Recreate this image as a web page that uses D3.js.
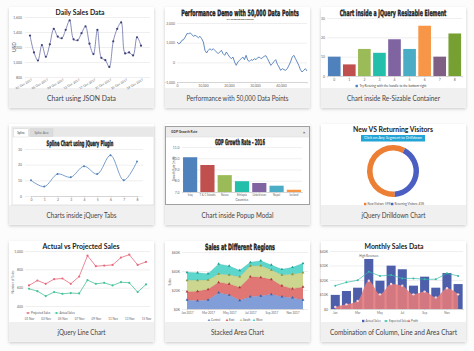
<!DOCTYPE html>
<html>
<head>
<meta charset="utf-8">
<script src="https://cdn.jsdelivr.net/npm/d3@7"></script>
<style>
  body { margin: 0; background: #fcfcfc; }
  svg { display: block; font-family: Lato, "Open Sans", sans-serif; }
</style>
</head>
<body>
<svg id="page" width="474" height="351"></svg>
<script>
const dailyStart = new Date(2017, 11, 1);
const dailySales = [1353, 1128, 1020, 1227, 1070, 1236, 1443, 1339, 1317, 1429, 1555, 1303, 1290, 1384, 1474,
  1245, 1106, 1429, 1056, 1025, 935, 1276, 1443, 1528, 1115, 1128, 1088, 1330, 1218];
const dailyTicks = [800, 1000, 1200, 1400, 1600];

const perfValues = [1034, 949, 983, 1119, 1153, 1288, 1458, 1458, 1492, 1424,
  1322, 1373, 1322, 1254, 1322, 1203, 1034, 610, 475, 610,
  695, 610, 695, 610, 525, 441, 525, 610, 441, 356,
  525, 390, 271, 186, 271, 17, -153, 17, 102, 186,
  271, 136, 356, 102, 51, 136, 102, 186, 136, 237,
  271, 186, 237, 305, 339, 186, 17, -153, -68, 51,
  136, -102, -237, -407, -322, -373, -407, -322, -153, 17,
  271, 356, 186, 17, -153, -373, -492, -407, -322, -441];
const perfTicksX = [0, 10000, 20000, 30000, 40000];
const perfTicksY = [-1000, 0, 1000, 2000];

const resizeLabels = ['0', '1', '2', '3', '4', '5', '6', '7', '8'];
const resizeValues = [10, 6, 14, 12, 19, 14, 26, 10, 22];
const splineValues = [10, 6, 14, 12, 19, 14, 26, 10, 22];
const smallTicks = [0, 10, 20, 30];

const gdpCountries = ['Iraq', 'T & C Islands', 'Nauru', 'Ethiopia', 'Uzbekistan', 'Nepal', 'Iceland'];
const gdpRates = [10.09, 9.40, 8.50, 7.96, 7.80, 7.56, 7.20];
const gdpTicks = [7, 8, 9, 10, 11];

const visitorLabels = ['New Visitors', 'Returning Visitors'];
const visitorShare = [59, 41];

const salesDays = ['01 Nov', '02 Nov', '03 Nov', '04 Nov', '05 Nov', '06 Nov', '07 Nov', '08 Nov',
  '09 Nov', '10 Nov', '11 Nov', '12 Nov', '13 Nov', '14 Nov', '15 Nov'];
const projectedSales = [624, 678, 642, 693, 700, 642, 721, 949, 834, 841, 848, 928, 960, 848, 881];
const actualSales = [588, 562, 508, 552, 533, 541, 537, 682, 642, 653, 624, 660, 653, 552, 635];
const salesTicks = [400, 600, 800, 1000];

const regionMonths = ['Jan 2017', 'Feb 2017', 'Mar 2017', 'Apr 2017', 'May 2017', 'Jun 2017',
  'Jul 2017', 'Aug 2017', 'Sep 2017', 'Oct 2017', 'Nov 2017', 'Dec 2017'];
const regionKeys = ['Central', 'East', 'South', 'West'];
const centralSales = [9.5, 8.8, 9.5, 17.2, 14.7, 9.1, 13, 13.7, 15.4, 13, 11.9, 9.5];
const eastSales = [8.7, 9.8, 11.2, 10.9, 11.6, 13.7, 21, 19.6, 15.8, 11.6, 9.5, 13.7];
const southSales = [12, 11.6, 9.8, 8.7, 9.5, 11.2, 11.3, 12.3, 9.9, 11.2, 15.1, 15];
const westSales = [8.4, 8, 6.7, 10.6, 9.5, 6.7, 3.8, 5.3, 5.2, 6, 7.4, 9.9];
const regionTicks = [0, 20, 40, 60];

const months = ['Jan', 'Feb', 'Mar', 'Apr', 'May', 'Jun', 'Jul', 'Aug', 'Sep', 'Oct', 'Nov', 'Dec'];
const monthlyActual = [9.7, 12.4, 14.7, 34.5, 19.5, 29.9, 27.4, 16.1, 22.3, 14.7, 24.8, 17.2];
const monthlyExpected = [16.1, 18.4, 19.8, 25.7, 22.8, 23.4, 21.1, 21.1, 20.5, 20.5, 24.6, 22.8];
const monthlyProfit = [1.4, 3.2, 5.5, 19.5, 10.1, 17.2, 16.1, 10.1, 12, 8, 14.3, 10.1];
const monthlyTicks = [0, 10, 20, 30, 40];

const captions = ['Chart using JSON Data', 'Performance with 50,000 Data Points', 'Chart inside Re-Sizable Container',
  'Charts inside jQuery Tabs', 'Chart inside Popup Modal', 'jQuery Drilldown Chart',
  'jQuery Line Chart', 'Stacked Area Chart', 'Combination of Column, Line and Area Chart'];

// ---- layout ----
const cardX = [9, 165, 321], cardY = [7, 124, 241];
const cardW = 145, imgH = 81, bandH = 19.5;
const captionLen = [69, 102, 93, 70, 72, 64, 48, 53, 127];
const colorSet = ['#4f81bc', '#c0504e', '#9bbb58', '#23bfaa', '#8064a1', '#4aacc5', '#f79647', '#7f6084', '#77a033'];
const narrow = '"Liberation Sans Narrow", "DejaVu Sans Condensed", sans-serif';

const svg = d3.select('#page');
svg.append('rect').attr('width', 474).attr('height', 351).attr('fill', '#fcfcfc');
svg.append('defs').append('filter').attr('id', 'shadow')
  .attr('x', '-10%').attr('y', '-10%').attr('width', '120%').attr('height', '130%')
  .append('feDropShadow').attr('dx', 0).attr('dy', 1.5).attr('stdDeviation', 1.6)
  .attr('flood-color', '#000').attr('flood-opacity', 0.2);

function title(g, x, y, str, len, size, impact) {
  const t = g.append('text').attr('dy', '0.35em').attr('text-anchor', 'middle')
    .attr('font-family', impact ? narrow : 'Lato, "Open Sans", sans-serif')
    .attr('font-weight', 'bold').attr('font-size', size).attr('fill', '#222')
    .attr('stroke', impact ? '#222' : 'none').attr('stroke-width', impact ? 0.3 : 0)
    .text(str);
  // squeeze to the width seen in the thumbnail; impact-like titles get a bit taller
  const sx = len / t.node().getComputedTextLength();
  t.attr('transform', 'translate(' + x + ',' + y + ') scale(' + sx + ',' + (impact ? 1.25 : 1) + ')');
}

function small(g, x, y, str, size, opts) {
  opts = opts || {};
  const t = g.append('text').attr('x', x).attr('y', y).attr('dy', '0.35em')
    .attr('font-size', size).attr('fill', opts.fill || '#555')
    .attr('text-anchor', opts.anchor || 'start').text(str);
  if (opts.rotate) t.attr('transform', 'rotate(-90,' + x + ',' + y + ')');
  if (opts.len) t.attr('textLength', opts.len).attr('lengthAdjust', 'spacingAndGlyphs');
  if (opts.weight) t.attr('font-weight', opts.weight);
  return t;
}

function grid(sel) {
  sel.attr('font-family', null);
  sel.select('.domain').remove();
  sel.selectAll('.tick line').attr('stroke', '#dedede').attr('stroke-width', 0.5);
  sel.selectAll('.tick text').attr('font-size', 3.4).attr('fill', '#666');
}

function baseAxis(sel, size) {
  sel.attr('font-family', null);
  sel.select('.domain').attr('stroke', '#bbb').attr('stroke-width', 0.5);
  sel.selectAll('.tick line').attr('stroke', '#bbb').attr('stroke-width', 0.5);
  sel.selectAll('.tick text').attr('font-size', size || 3.4).attr('fill', '#666');
}

// 1. Daily Sales Data
function drawDaily(g) {
  const dates = dailySales.map((d, i) => d3.timeDay.offset(dailyStart, i));
  const x = d3.scaleTime().domain(d3.extent(dates)).range([21, 132]);
  const y = d3.scaleLinear().domain([800, 1600]).range([70, 10]);
  title(g, 71, 6, 'Daily Sales Data', 49, 7);
  small(g, 5, 40, 'USD', 6, { rotate: true, anchor: 'middle', fill: '#555', len: 10 });
  g.append('g').attr('transform', 'translate(16,0)')
    .call(d3.axisLeft(y).tickValues(dailyTicks).tickSize(-125).tickPadding(3).tickFormat(d3.format(',')))
    .call(grid);
  const xa = g.append('g').attr('transform', 'translate(0,70)')
    .call(d3.axisBottom(x).tickValues(dates.filter((d, i) => i % 4 === 0)).tickSize(0).tickPadding(3)
      .tickFormat(d3.timeFormat('%d %b %Y')));
  xa.attr('font-family', null).select('.domain').remove();
  xa.selectAll('text').attr('font-size', 3.2).attr('fill', '#666').attr('text-anchor', 'end')
    .attr('dy', '0.3em').attr('transform', 'rotate(-30)');
  const line = d3.line().x((d, i) => x(dates[i])).y(d => y(d)).curve(d3.curveCatmullRom);
  g.append('path').datum(dailySales).attr('d', line).attr('fill', 'none')
    .attr('stroke', '#6a6ea8').attr('stroke-width', 0.8);
  g.selectAll('.dot').data(dailySales).join('circle')
    .attr('cx', (d, i) => x(dates[i])).attr('cy', d => y(d)).attr('r', 1.1).attr('fill', '#3e4178');
}

// 2. Performance Demo
function drawPerf(g) {
  const x = d3.scaleLinear().domain([0, 50000]).range([12, 142]);
  const y = d3.scaleLinear().domain([-1000, 2000]).range([75, 16]);
  title(g, 75, 6, 'Performance Demo with 50,000 Data Points', 118, 7, true);
  small(g, 75, 12.5, 'Try Zooming and Panning', 2.4, { anchor: 'middle', fill: '#333', weight: 'bold' });
  g.append('g').attr('transform', 'translate(12,0)')
    .call(d3.axisLeft(y).tickValues(perfTicksY).tickSize(-130).tickPadding(2).tickFormat(d3.format(',')))
    .call(grid);
  g.append('g').attr('transform', 'translate(0,75)')
    .call(d3.axisBottom(x).tickValues(perfTicksX).tickSize(1.5).tickPadding(1.5).tickFormat(d3.format(',')))
    .call(baseAxis);
  const step = 50000 / (perfValues.length - 1);
  const line = d3.line().x((d, i) => x(i * step)).y(d => y(d));
  g.append('path').datum(perfValues).attr('d', line).attr('fill', 'none')
    .attr('stroke', '#3a6db0').attr('stroke-width', 0.8);
}

// 3. Resizable column chart
function drawResize(g) {
  const x = d3.scaleBand().domain(resizeLabels).range([6, 141]).paddingInner(0.16).paddingOuter(0.06);
  const y = d3.scaleLinear().domain([0, 30]).range([69, 11]);
  title(g, 72, 6, 'Chart inside a jQuery Resizable Element', 107, 6.8, true);
  g.append('g').attr('transform', 'translate(6,0)')
    .call(d3.axisLeft(y).tickValues(smallTicks).tickSize(-135).tickPadding(2))
    .call(grid);
  g.selectAll('.bar').data(resizeValues).join('rect')
    .attr('x', (d, i) => x(resizeLabels[i])).attr('width', x.bandwidth())
    .attr('y', d => y(d)).attr('height', d => y(0) - y(d))
    .attr('fill', (d, i) => colorSet[i]);
  g.append('g').attr('transform', 'translate(0,69)')
    .call(d3.axisBottom(x).tickSize(1.5).tickPadding(1.5)).call(baseAxis);
  g.append('rect').attr('x', 34.5).attr('y', 77.8).attr('width', 2.4).attr('height', 2.4).attr('fill', colorSet[0]);
  small(g, 38.5, 79, 'Try Resizing with the handle to the bottom-right', 3, { fill: '#444', len: 67 });
}

// 4. Spline chart in tabs
function drawSpline(g) {
  g.append('rect').attr('x', 3).attr('y', 3).attr('width', 142).attr('height', 78)
    .attr('fill', '#fff').attr('stroke', '#d3d3d3').attr('stroke-width', 0.6);
  g.append('rect').attr('x', 3.3).attr('y', 3.3).attr('width', 141.4).attr('height', 9.5).attr('fill', '#e8e8e8');
  g.append('rect').attr('x', 4.5).attr('y', 4.8).attr('width', 15).attr('height', 8.2)
    .attr('fill', '#fff').attr('stroke', '#cfcfcf').attr('stroke-width', 0.4);
  g.append('rect').attr('x', 21).attr('y', 4.8).attr('width', 23).attr('height', 7.8)
    .attr('fill', '#dcdcdc').attr('stroke', '#cfcfcf').attr('stroke-width', 0.4);
  small(g, 12, 9, 'Spline', 2.8, { anchor: 'middle', fill: '#333' });
  small(g, 32.5, 9, 'Spline Area', 2.8, { anchor: 'middle', fill: '#666' });

  const x = d3.scalePoint().domain(resizeLabels).range([22, 128]);
  const y = d3.scaleLinear().domain([0, 30]).range([72, 25]);
  title(g, 71, 19, 'Spline Chart using jQuery Plugin', 67, 6, true);
  g.append('g').attr('transform', 'translate(16,0)')
    .call(d3.axisLeft(y).tickValues(smallTicks).tickSize(-118).tickPadding(3))
    .call(grid);
  g.append('g').attr('transform', 'translate(0,72)')
    .call(d3.axisBottom(x).tickSize(1.5).tickPadding(1.5)).call(baseAxis);
  const line = d3.line().x((d, i) => x(resizeLabels[i])).y(d => y(d)).curve(d3.curveCatmullRom);
  g.append('path').datum(splineValues).attr('d', line).attr('fill', 'none')
    .attr('stroke', '#5a88c0').attr('stroke-width', 0.8);
  g.selectAll('.dot').data(splineValues).join('circle')
    .attr('cx', (d, i) => x(resizeLabels[i])).attr('cy', d => y(d)).attr('r', 1).attr('fill', '#4f81bc');
}

// 5. Popup modal with GDP chart
function drawModal(g) {
  g.append('rect').attr('x', 0.5).attr('y', 2.5).attr('width', 144).attr('height', 78)
    .attr('fill', '#fff').attr('stroke', '#a0a0a0').attr('stroke-width', 1);
  g.append('rect').attr('x', 1).attr('y', 3).attr('width', 143).attr('height', 10).attr('fill', '#ececec');
  g.append('line').attr('x1', 1).attr('x2', 144).attr('y1', 13).attr('y2', 13).attr('stroke', '#d8d8d8').attr('stroke-width', 0.5);
  small(g, 6, 8, 'GDP Growth Rate', 3.3, { fill: '#333', weight: 'bold' });
  small(g, 139, 8, '×', 4.5, { anchor: 'middle', fill: '#444', weight: 'bold' });

  const x = d3.scaleBand().domain(gdpCountries).range([17, 137]).paddingInner(0.18).paddingOuter(0.06);
  const y = d3.scaleLinear().domain([7, 11]).range([68, 23]);
  title(g, 75, 18, 'GDP Growth Rate - 2016', 50, 6.5, true);
  g.append('g').attr('transform', 'translate(17,0)')
    .call(d3.axisLeft(y).tickValues(gdpTicks).tickSize(-120).tickPadding(2.5))
    .call(grid);
  small(g, 9, 45, 'Growth Rate (in %)', 3, { rotate: true, anchor: 'middle', fill: '#555' });
  g.selectAll('.bar').data(gdpRates).join('rect')
    .attr('x', (d, i) => x(gdpCountries[i])).attr('width', x.bandwidth())
    .attr('y', d => y(d)).attr('height', d => y(7) - y(d))
    .attr('fill', (d, i) => colorSet[i]);
  g.append('g').attr('transform', 'translate(0,68)')
    .call(d3.axisBottom(x).tickSize(1.2).tickPadding(1.2)).call(s => baseAxis(s, 2.8));
  small(g, 77, 75.5, 'Countries', 3, { anchor: 'middle', fill: '#555' });
}

// 6. Drilldown doughnut
function drawDrilldown(g) {
  const colors = ['#ec7f33', '#4a5fc1'];
  title(g, 72, 6, 'New VS Returning Visitors', 80, 7);
  g.append('rect').attr('x', 40).attr('y', 11).attr('width', 64).attr('height', 6.5).attr('fill', '#22a5d6');
  small(g, 72, 14.3, 'Click on Any Segment to Drilldown', 3.2, { anchor: 'middle', fill: '#fff', len: 58 });
  const start = 175.6 * Math.PI / 180;
  const pie = d3.pie().sort(null).startAngle(start).endAngle(start + 2 * Math.PI);
  const arc = d3.arc().innerRadius(20.5).outerRadius(26);
  g.append('g').attr('transform', 'translate(72,47)')
    .selectAll('path').data(pie(visitorShare)).join('path')
    .attr('d', arc).attr('fill', (d, i) => colors[i]);
  const legendX = [43, 70];
  visitorLabels.forEach((lab, i) => {
    g.append('rect').attr('x', legendX[i]).attr('y', 78.8).attr('width', 2.4).attr('height', 2.4)
      .attr('fill', colors[i]);
    small(g, legendX[i] + 3.5, 80, lab + ': ' + visitorShare[i] + '%', 2.9, { fill: '#444' });
  });
}

// 7. Actual vs Projected line chart
function drawLines(g) {
  const x = d3.scalePoint().domain(salesDays).range([20, 137]);
  const y = d3.scaleLinear().domain([400, 1000]).range([65, 10]);
  title(g, 72, 6, 'Actual vs Projected Sales', 77, 7);
  small(g, 4, 41, 'Number of Sales', 3.2, { rotate: true, anchor: 'middle', fill: '#777' });
  g.append('g').attr('transform', 'translate(16,0)')
    .call(d3.axisLeft(y).tickValues(salesTicks).tickSize(-125).tickPadding(2))
    .call(grid);
  const xa = g.append('g').attr('transform', 'translate(0,74)')
    .call(d3.axisBottom(x).tickValues(salesDays.filter((d, i) => i % 2 === 0)).tickSize(0).tickPadding(2.5));
  xa.call(baseAxis, 3).select('.domain').remove();
  const series = [
    { name: 'Projected Sales', values: projectedSales, color: '#e8697c' },
    { name: 'Actual Sales', values: actualSales, color: '#48c299' }
  ];
  const line = d3.line().x((d, i) => x(salesDays[i])).y(d => y(d));
  series.forEach((s, k) => {
    g.append('path').datum(s.values).attr('d', line).attr('fill', 'none')
      .attr('stroke', s.color).attr('stroke-width', 0.8);
    g.selectAll('.dot' + k).data(s.values).join('circle')
      .attr('cx', (d, i) => x(salesDays[i])).attr('cy', d => y(d)).attr('r', 1.1).attr('fill', s.color);
    const lx = [17, 45.5][k];
    g.append('line').attr('x1', lx).attr('x2', lx + 4).attr('y1', 72).attr('y2', 72)
      .attr('stroke', s.color).attr('stroke-width', 0.6);
    g.append('circle').attr('cx', lx + 2).attr('cy', 72).attr('r', 0.9).attr('fill', s.color);
    small(g, lx + 5, 72, s.name, 2.9, { fill: '#555' });
  });
}

// 8. Stacked area
function drawStacked(g) {
  const colors = ['#7696d6', '#de6b68', '#c9d286', '#4fd3c8'];
  const marks = ['#3e5fa6', '#a83a38', '#8a9540', '#1f9d92'];
  const rows = regionMonths.map((m, i) => ({
    Central: centralSales[i], East: eastSales[i], South: southSales[i], West: westSales[i]
  }));
  const stacked = d3.stack().keys(regionKeys)(rows);
  const x = d3.scalePoint().domain(regionMonths).range([22, 138]);
  const y = d3.scaleLinear().domain([0, 60]).range([68, 11]);
  title(g, 75, 6, 'Sales at Different Regions', 70, 6.8, true);
  small(g, 5, 41, 'Sales', 3.2, { rotate: true, anchor: 'middle', fill: '#555' });
  g.append('g').attr('transform', 'translate(17,0)')
    .call(d3.axisLeft(y).tickValues(regionTicks).tickSize(-126).tickPadding(2).tickFormat(d => '$' + d + 'K'))
    .call(grid);
  const area = d3.area().x((d, i) => x(regionMonths[i])).y0(d => y(d[0])).y1(d => y(d[1]));
  g.selectAll('.layer').data(stacked).join('path')
    .attr('d', area).attr('fill', (d, i) => colors[i]).attr('fill-opacity', 0.92);
  const tri = d3.symbol().type(d3.symbolTriangle).size(3.5);
  stacked.forEach((layer, k) => {
    g.append('path').datum(layer).attr('d', d3.line().x((d, i) => x(regionMonths[i])).y(d => y(d[1])))
      .attr('fill', 'none').attr('stroke', marks[k]).attr('stroke-width', 0.3).attr('stroke-opacity', 0.6);
    g.selectAll('.m' + k).data(layer).join('path')
      .attr('d', tri).attr('fill', marks[k])
      .attr('transform', (d, i) => 'translate(' + x(regionMonths[i]) + ',' + y(d[1]) + ')');
  });
  g.append('g').attr('transform', 'translate(0,68)')
    .call(d3.axisBottom(x).tickValues(regionMonths.filter((d, i) => i % 2 === 0)).tickSize(1.2).tickPadding(1.5))
    .call(s => baseAxis(s, 3));
  const legendX = [44, 62, 76, 89];
  regionKeys.forEach((k, i) => {
    g.append('path').attr('d', tri).attr('fill', colors[i])
      .attr('transform', 'translate(' + legendX[i] + ',79.3)');
    small(g, legendX[i] + 2, 79.3, k, 2.9, { fill: '#555' });
  });
}

// 9. Column + line + area
function drawCombo(g) {
  const x = d3.scaleBand().domain(months).range([9.2, 142.2]).paddingInner(0.19).paddingOuter(0.05);
  const y = d3.scaleLinear().domain([0, 40]).range([68, 10]);
  const cx = m => x(m) + x.bandwidth() / 2;
  title(g, 73, 6, 'Monthly Sales Data', 59, 7);
  g.append('g').attr('transform', 'translate(9,0)')
    .call(d3.axisLeft(y).tickValues(monthlyTicks).tickSize(-133).tickPadding(2)
      .tickFormat(d => d === 0 ? '$0' : '$' + d + 'K'))
    .call(grid);
  g.selectAll('.bar').data(monthlyActual).join('rect')
    .attr('x', (d, i) => x(months[i])).attr('width', x.bandwidth())
    .attr('y', d => y(d)).attr('height', d => y(0) - y(d)).attr('fill', '#4d5eab');
  const area = d3.area().x((d, i) => cx(months[i])).y0(y(0)).y1(d => y(d)).curve(d3.curveMonotoneX);
  g.append('path').datum(monthlyProfit).attr('d', area).attr('fill', '#e27a7c').attr('fill-opacity', 0.9);
  g.selectAll('.pdot').data(monthlyProfit).join('circle')
    .attr('cx', (d, i) => cx(months[i])).attr('cy', d => y(d)).attr('r', 1.2).attr('fill', '#f6d3d3');
  const line = d3.line().x((d, i) => cx(months[i])).y(d => y(d));
  g.append('path').datum(monthlyExpected).attr('d', line).attr('fill', 'none')
    .attr('stroke', '#33bba6').attr('stroke-width', 0.7);
  g.selectAll('.edot').data(monthlyExpected).join('circle')
    .attr('cx', (d, i) => cx(months[i])).attr('cy', d => y(d)).attr('r', 1).attr('fill', '#33bba6');
  small(g, cx('Apr'), 15, 'High Revenues', 2.9, { anchor: 'middle', fill: '#555' });
  g.append('g').attr('transform', 'translate(0,68)')
    .call(d3.axisBottom(x).tickValues(months.filter((d, i) => i % 2 === 0)).tickSize(1.2).tickPadding(1.5))
    .call(s => baseAxis(s, 3));
  // legend
  g.append('rect').attr('x', 41).attr('y', 78.8).attr('width', 2.4).attr('height', 2.4).attr('fill', '#4d5eab');
  small(g, 44.5, 80, 'Actual Sales', 2.9, { fill: '#555' });
  g.append('line').attr('x1', 63).attr('x2', 67).attr('y1', 80).attr('y2', 80).attr('stroke', '#33bba6').attr('stroke-width', 0.6);
  g.append('circle').attr('cx', 65).attr('cy', 80).attr('r', 0.9).attr('fill', '#33bba6');
  small(g, 68, 80, 'Expected Sales', 2.9, { fill: '#555' });
  g.append('path').attr('d', d3.symbol().type(d3.symbolTriangle).size(4)).attr('fill', '#e27a7c')
    .attr('transform', 'translate(88,80)');
  small(g, 90, 80, 'Profit', 2.9, { fill: '#555' });
}

const charts = [drawDaily, drawPerf, drawResize, drawSpline, drawModal, drawDrilldown, drawLines, drawStacked, drawCombo];

charts.forEach((draw, i) => {
  const card = svg.append('g')
    .attr('transform', 'translate(' + cardX[i % 3] + ',' + cardY[Math.floor(i / 3)] + ')');
  card.append('rect').attr('width', cardW).attr('height', imgH + bandH)
    .attr('fill', '#fff').attr('filter', 'url(#shadow)');
  card.append('rect').attr('y', imgH).attr('width', cardW).attr('height', bandH).attr('fill', '#f0f0f0');
  card.append('text').attr('x', cardW / 2).attr('y', imgH + bandH / 2 + 0.6).attr('dy', '0.35em')
    .attr('text-anchor', 'middle').attr('font-family', 'Lato, "Open Sans", sans-serif')
    .attr('font-size', captions[i].length > 40 ? 6.9 : 7.4).attr('fill', '#444')
    .attr('textLength', captionLen[i]).attr('lengthAdjust', 'spacingAndGlyphs')
    .text(captions[i]);
  draw(card.append('g'));
});
</script>
</body>
</html>
